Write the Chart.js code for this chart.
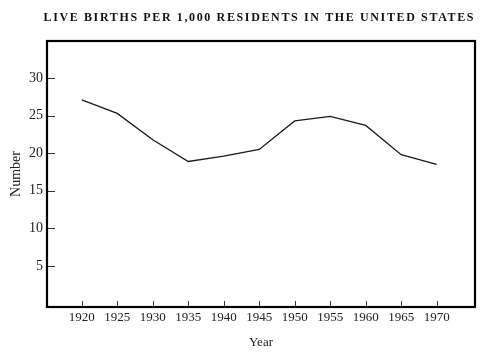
<!DOCTYPE html>
<html>
<head>
<meta charset="utf-8">
<script src="https://cdn.jsdelivr.net/npm/chart.js@4.4.1/dist/chart.umd.min.js"></script>
<style>
html,body{margin:0;padding:0;background:#fff;}
#wrap{width:490px;height:357px;position:relative;}
</style>
</head>
<body>
<div id="wrap"><canvas id="c" width="490" height="357"></canvas></div>
<script>
const chartTitle = "LIVE BIRTHS PER 1,000 RESIDENTS IN THE UNITED STATES";
const years = [1920, 1925, 1930, 1935, 1940, 1945, 1950, 1955, 1960, 1965, 1970];
const birthRates = [27.1, 25.3, 21.8, 18.9, 19.6, 20.5, 24.3, 24.9, 23.7, 19.8, 18.5];
const xTickValues = [1920, 1925, 1930, 1935, 1940, 1945, 1950, 1955, 1960, 1965, 1970];
const yTickValues = [5, 10, 15, 20, 25, 30];
const xAxisTitle = "Year";
const yAxisTitle = "Number";

const points = years.map((y, i) => ({x: y, y: birthRates[i]}));

const frame = {
  id: 'frame',
  afterDraw(chart) {
    const ctx = chart.ctx;
    const a = chart.chartArea;
    ctx.save();
    ctx.strokeStyle = '#333';
    ctx.lineWidth = 1;
    const xs = chart.scales.x, ys = chart.scales.y;
    xs.ticks.forEach(t => {
      const px = Math.round(xs.getPixelForValue(t.value)) + 0.5;
      ctx.beginPath(); ctx.moveTo(px, a.bottom); ctx.lineTo(px, a.bottom - 6); ctx.stroke();
    });
    ys.ticks.forEach(t => {
      const py = Math.round(ys.getPixelForValue(t.value)) + 0.5;
      ctx.beginPath(); ctx.moveTo(a.left, py); ctx.lineTo(a.left + 8, py); ctx.stroke();
    });
    ctx.strokeStyle = '#000';
    ctx.lineWidth = 2.2;
    ctx.strokeRect(a.left, a.top, a.right - a.left, a.bottom - a.top);
    ctx.fillStyle = '#111';
    ctx.font = 'bold 12px "Liberation Serif", "Times New Roman", serif';
    ctx.textBaseline = 'alphabetic';
    ctx.textAlign = 'left';
    const target = 430;
    ctx.letterSpacing = '0px';
    const w0 = ctx.measureText(chartTitle).width;
    const sp = (target - w0) / (chartTitle.length - 1);
    ctx.letterSpacing = sp + 'px';
    ctx.fillText(chartTitle, 43.5, 20.5);
    ctx.letterSpacing = '0px';
    ctx.restore();
  }
};

new Chart(document.getElementById('c'), {
  type: 'line',
  data: {
    datasets: [{
      data: points,
      borderColor: '#1a1a1a',
      borderWidth: 1.3,
      pointRadius: 0,
      tension: 0,
      fill: false
    }]
  },
  options: {
    responsive: false,
    animation: false,
    devicePixelRatio: 1,
    layout: {padding: {left: 8, right: 15, top: 41, bottom: 7}},
    plugins: {legend: {display: false}, tooltip: {enabled: false}, title: {display: false}},
    scales: {
      x: {
        type: 'linear',
        min: 1915.1,
        max: 1975.4,
        afterBuildTicks(s) { s.ticks = xTickValues.map(v => ({value: v})); },
        afterFit(s) { s.height = 43; },
        grid: {display: false, drawTicks: false, tickLength: 0},
        border: {display: false},
        ticks: {
          color: '#222',
          font: {family: '"Liberation Serif", "Times New Roman", serif', size: 13},
          padding: 3,
          maxRotation: 0,
          autoSkip: false,
          callback: v => String(v)
        },
        title: {
          display: true,
          text: xAxisTitle,
          color: '#222',
          font: {family: '"Liberation Serif", "Times New Roman", serif', size: 13},
          padding: {top: 0, bottom: 0}
        }
      },
      y: {
        type: 'linear',
        min: -0.46,
        max: 34.93,
        afterBuildTicks(s) { s.ticks = yTickValues.map(v => ({value: v})); },
        afterFit(s) { s.width = 39; },
        grid: {display: false, drawTicks: false, tickLength: 0},
        border: {display: false},
        ticks: {
          color: '#222',
          font: {family: '"Liberation Serif", "Times New Roman", serif', size: 14},
          padding: 4,
          autoSkip: false,
          callback: v => String(v)
        },
        title: {
          display: true,
          text: yAxisTitle,
          color: '#222',
          font: {family: '"Liberation Serif", "Times New Roman", serif', size: 14},
          padding: {top: 0, bottom: 0}
        }
      }
    }
  },
  plugins: [frame]
});
</script>
</body>
</html>
